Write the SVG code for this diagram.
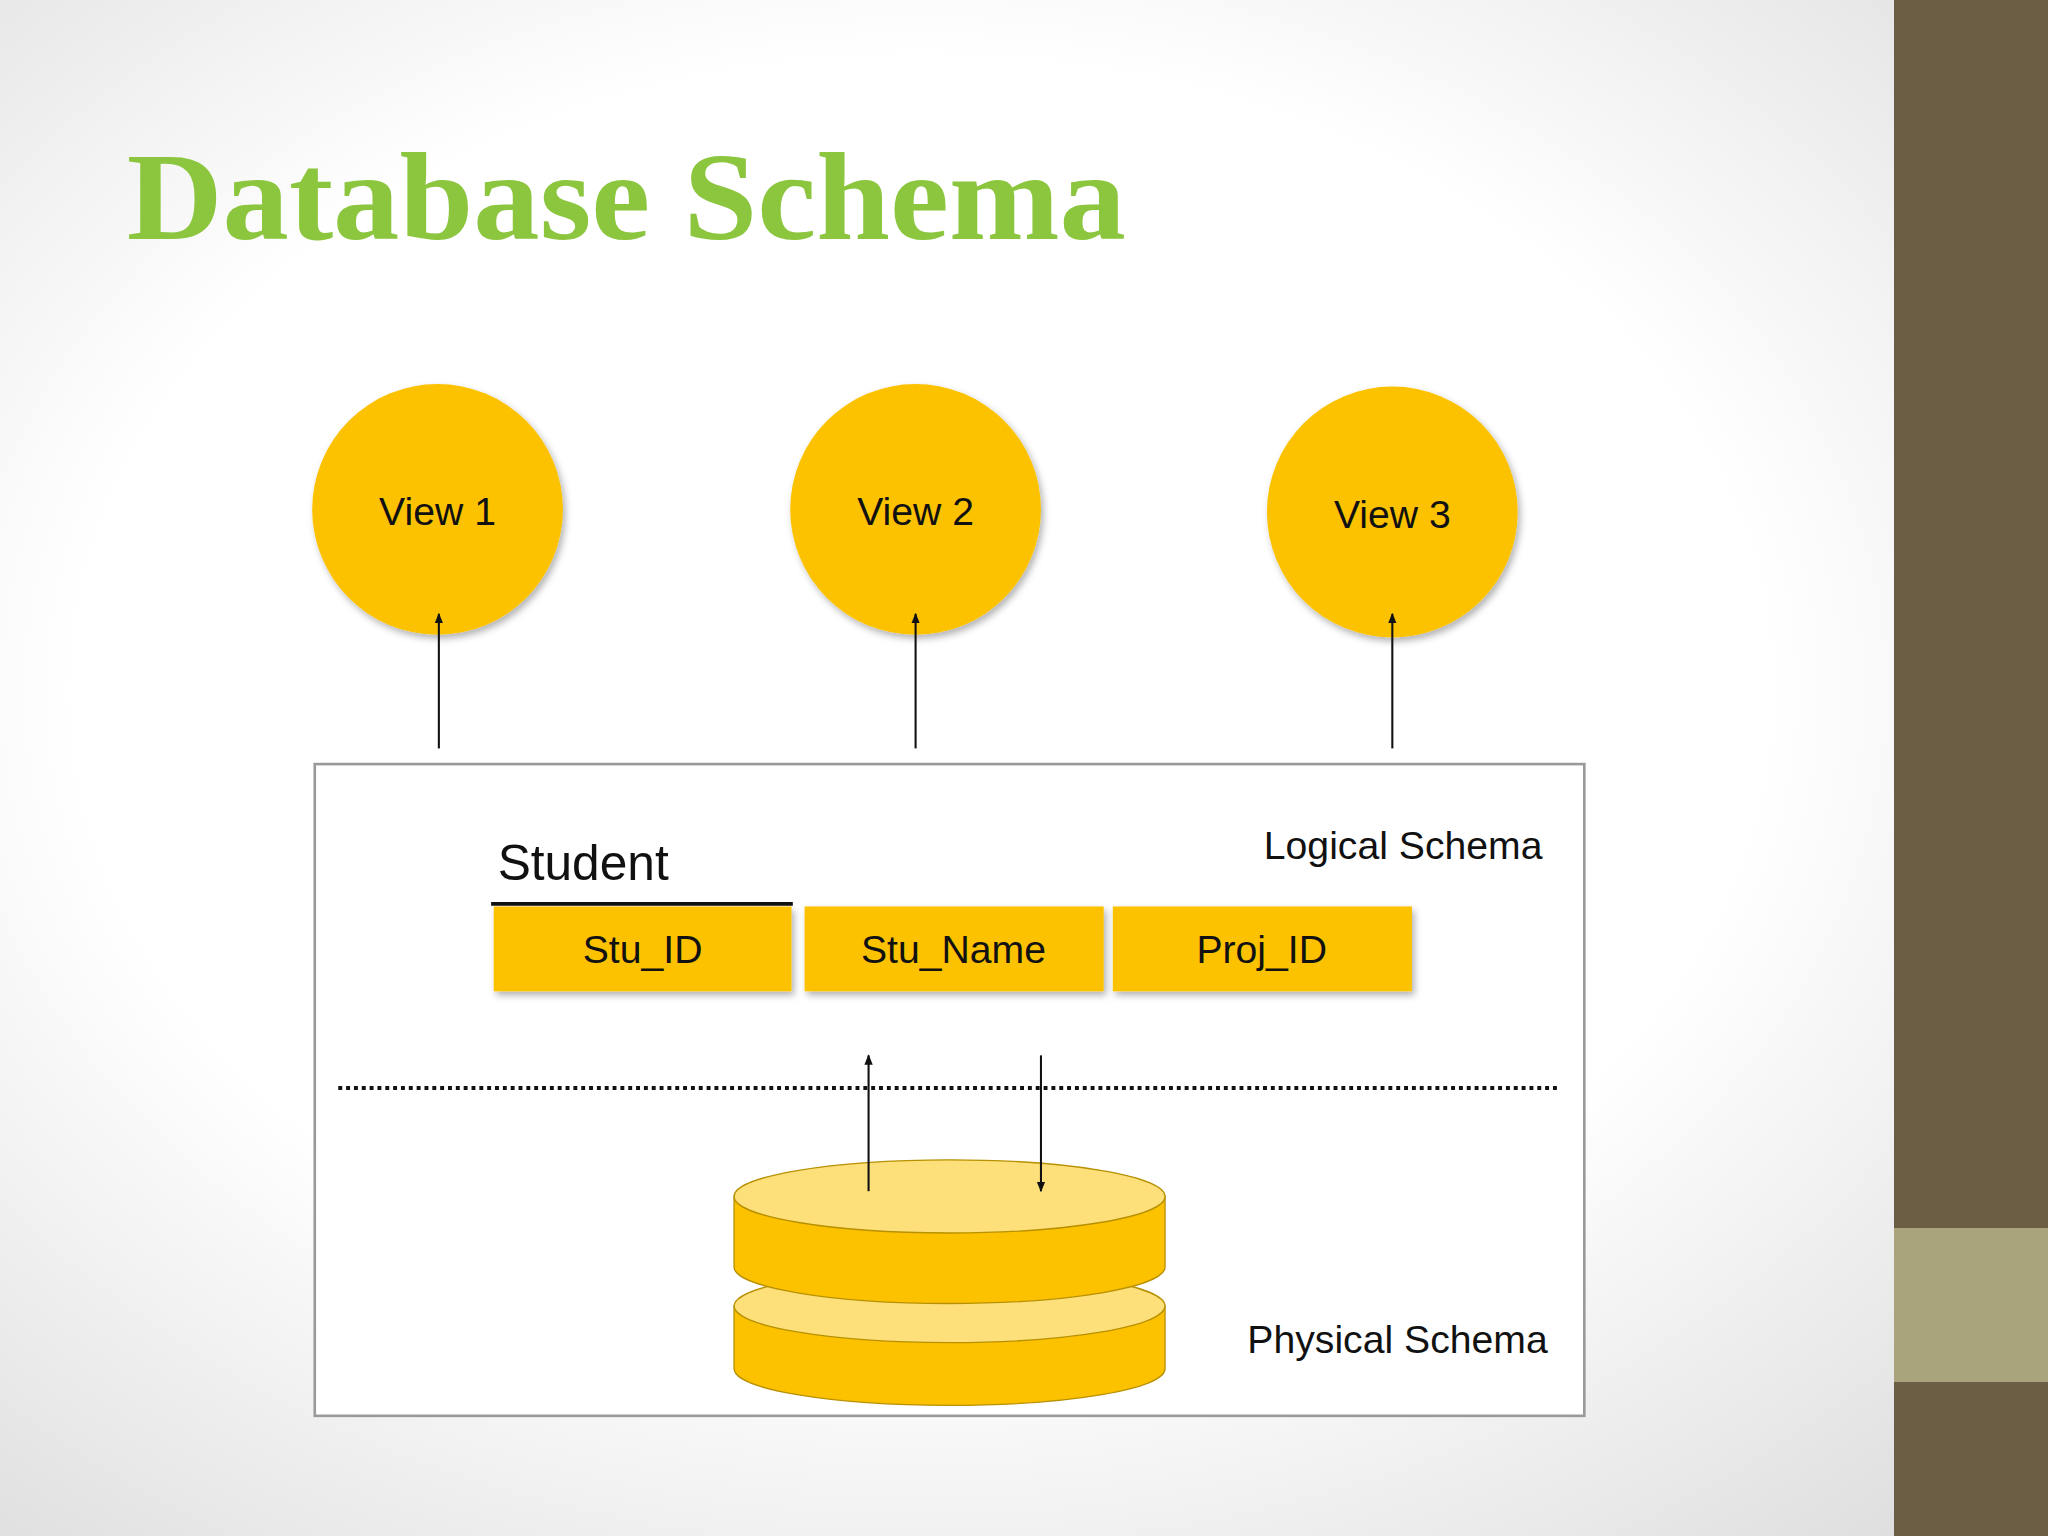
<svg xmlns="http://www.w3.org/2000/svg" width="2048" height="1536" viewBox="0 0 2048 1536">
<defs>
<radialGradient id="bg" cx="0.45" cy="0.45" r="0.75">
<stop offset="0.55" stop-color="#ffffff"/><stop offset="1" stop-color="#dcdcdc"/>
</radialGradient>
<marker id="ah" viewBox="0 0 10 10" refX="9" refY="5" markerWidth="5" markerHeight="5" orient="auto"><path d="M0,1 L10,5 L0,9 z" fill="#111"/></marker>
<filter id="sh" x="-20%" y="-20%" width="140%" height="140%"><feDropShadow dx="2" dy="3" stdDeviation="3" flood-color="#000" flood-opacity="0.3"/></filter>
<style>
.v{fill:#fcc200;filter:url(#sh)}
.t{font-family:"Liberation Sans",Arial,sans-serif;fill:#111}
.cell{fill:#fcc200;filter:url(#sh)}
.c{stroke:#111;stroke-width:1.6;fill:none;marker-end:url(#ah)}
.disk{fill:#fcc200;stroke:#b89000;stroke-width:1}
</style>
</defs>
<rect width="2048" height="1536" fill="url(#bg)"/>
<rect x="1894" y="0" width="154" height="1536" fill="#6b5e45"/>
<rect x="1894" y="1228" width="154" height="154" fill="#aaa47d"/>
<g transform="scale(1.30612)">
<text x="97" y="183" font-family="Liberation Serif,serif" font-weight="bold" font-size="96" fill="#8cc63f" textLength="765" lengthAdjust="spacingAndGlyphs">Database Schema</text>
<g id="view1"><circle class="v" cx="335" cy="390" r="96"/><text class="t" x="335" y="402" font-size="30" text-anchor="middle">View 1</text></g>
<g id="view2"><circle class="v" cx="701" cy="390" r="96"/><text class="t" x="701" y="402" font-size="30" text-anchor="middle">View 2</text></g>
<g id="view3"><circle class="v" cx="1066" cy="392" r="96"/><text class="t" x="1066" y="404" font-size="30" text-anchor="middle">View 3</text></g>
<g id="schema"><rect x="241" y="585" width="972" height="499" fill="#fff" stroke="#999" stroke-width="2"/>
<text class="t" x="1181" y="658" font-size="30" text-anchor="end">Logical Schema</text>
<text class="t" x="1185" y="1036" font-size="30" text-anchor="end">Physical Schema</text>
<line x1="259" y1="833" x2="1192" y2="833" stroke="#111" stroke-width="3" stroke-dasharray="3,3"/></g>
<g id="student"><text class="t" x="381" y="674" font-size="38">Student</text><line x1="376" y1="692" x2="607" y2="692" stroke="#111" stroke-width="3"/></g>
<g id="stu_id"><rect class="cell" x="378" y="694" width="228" height="65"/><text class="t" x="492" y="737" font-size="30" text-anchor="middle">Stu_ID</text></g>
<g id="stu_name"><rect class="cell" x="616" y="694" width="229" height="65"/><text class="t" x="730" y="737" font-size="30" text-anchor="middle">Stu_Name</text></g>
<g id="proj_id"><rect class="cell" x="852" y="694" width="229" height="65"/><text class="t" x="966" y="737" font-size="30" text-anchor="middle">Proj_ID</text></g>
<g id="db">
<path class="disk" d="M562,1000 L562,1048 A165,28 0 0 0 892,1048 L892,1000 Z"/>
<ellipse cx="727" cy="1000" rx="165" ry="28" fill="#fde07a" stroke="#b89000"/>
<path class="disk" d="M562,916 L562,970 A165,28 0 0 0 892,970 L892,916 Z"/>
<ellipse cx="727" cy="916" rx="165" ry="28" fill="#fde07a" stroke="#b89000"/>
</g>
<g id="connectors">
<line class="c" x1="336" y1="573" x2="336" y2="470"/>
<line class="c" x1="701" y1="573" x2="701" y2="470"/>
<line class="c" x1="1066" y1="573" x2="1066" y2="470"/>
<line class="c" x1="665" y1="912" x2="665" y2="808"/>
<line class="c" x1="797" y1="808" x2="797" y2="912"/>
</g>
</g>
</svg>
